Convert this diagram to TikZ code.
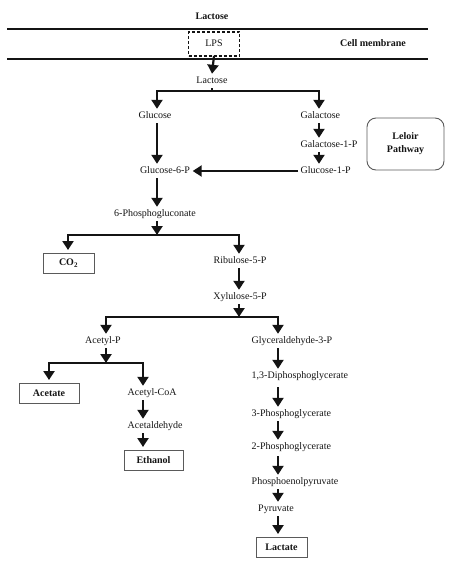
\documentclass[tikz,border=0pt]{standalone}
\usepackage{fontspec}
\setmainfont{Liberation Serif}
\usetikzlibrary{arrows.meta,calc,positioning}
\definecolor{PathInk}{HTML}{141414}
\definecolor{PathFrame}{HTML}{5A5A5A}

\begin{document}
\begin{tikzpicture}[x=1pt,y=-1pt,
    met/.style={inner sep=2.5pt,text height=7pt,text depth=2pt,
      text=PathInk,font=\fontsize{10}{12}\selectfont},
    tag/.style={met,font=\fontsize{10}{12}\selectfont\bfseries},
    endbox/.style={draw=PathFrame,line width=0.9pt,minimum height=20pt,
      outer sep=3pt,text=PathInk,font=\fontsize{10}{12}\selectfont\bfseries},
    flow/.style={-{Triangle[width=11pt,length=9pt]},line width=2.2pt,PathInk},
    tie/.style={line width=2.2pt,PathInk}]
  \useasboundingbox (0,0) rectangle (474,565);

  % membrane
  \node[tag] (lacout) at (212,17) {Lactose};
  \draw[line width=1.4pt,PathInk] (7,29) -- (428,29);
  \draw[line width=1.4pt,PathInk] (7,59) -- (428,59);
  \node[met,draw=PathInk,dashed,line width=1.3pt,dash pattern=on 3pt off 2pt,
    minimum width=51pt,minimum height=24pt,outer sep=0pt] (lps) at (214,44) {LPS};
  \node[tag] (memb) at (373,44) {Cell membrane};

  % lactose split
  \node[met] (lac) at (212,81) {Lactose};
  \node[met] (glc) at (155,116) {Glucose};
  \node[met,anchor=west] (gal) at (298,116) {Galactose};
  \node[met,anchor=west] (gal1p) at (298,145) {Galactose-1-P};
  \node[met,anchor=west] (glc1p) at (298,171) {Glucose-1-P};
  \node[met] (glc6p) at (165,171) {Glucose-6-P};
  \node[met] (pgl) at (155,214) {6-Phosphogluconate};
  \node[draw=PathFrame,line width=0.9pt,rounded corners=9pt,align=center,
    minimum width=77pt,minimum height=52pt,text=PathInk,
    font=\fontsize{10}{13}\selectfont\bfseries] (leloir) at (405.5,144)
    {Leloir\\Pathway};

  \coordinate (lacL) at (157,91);
  \coordinate (lacR) at (319,91);
  \coordinate (galcol) at (319,0);

  \draw[flow] (lps.south) -- (lac.north);
  \draw[tie] (lac.south) -- (lac.south |- lacL);
  \draw[flow] (lacR) -- (lacL) -- (glc.north -| lacL);
  \draw[flow] (lacL) -- (lacR) -- (gal.north -| lacR);
  \draw[flow] (gal.south -| galcol) -- (gal1p.north -| galcol);
  \draw[flow] (gal1p.south -| galcol) -- (glc1p.north -| galcol);
  \draw[flow] (glc1p.west) -- (glc6p.east);
  \draw[flow] (glc.south -| lacL) -- (glc6p.north -| lacL);
  \draw[flow] (glc6p.south -| lacL) -- (pgl.north -| lacL);

  % pentose phosphate
  \node[endbox,minimum width=51pt] (co2) at (68.5,263) {CO\textsubscript{2}};
  \node[met] (ru5p) at (240,261) {Ribulose-5-P};
  \node[met] (xu5p) at (240,297) {Xylulose-5-P};

  \coordinate (pglS) at (157,235);
  \coordinate (pglL) at (68,235);
  \coordinate (pglR) at (239,235);

  \draw[flow] (pgl.south -| pglS) -- (pglS);
  \draw[flow] (pglR) -- (pglL) -- (co2.north -| pglL);
  \draw[flow] (pglL) -- (pglR) -- (ru5p.north -| pglR);
  \draw[flow] (ru5p.south -| pglR) -- (xu5p.north -| pglR);

  % phosphoketolase split
  \coordinate (xuS) at (239,317);
  \coordinate (xuL) at (106,317);
  \coordinate (xuR) at (278,317);
  \draw[flow] (xu5p.south -| xuS) -- (xuS);

  \node[met] (acp) at (103,341) {Acetyl-P};
  \node[met,anchor=west] (gap) at (249,341) {Glyceraldehyde-3-P};
  \draw[flow] (xuR) -- (xuL) -- (acp.north -| xuL);
  \draw[flow] (xuL) -- (xuR) -- (gap.north -| xuR);

  % acetyl-P branch
  \coordinate (acS) at (106,363);
  \coordinate (acL) at (49,363);
  \coordinate (acR) at (143,363);
  \node[endbox,minimum width=60pt] (acetate) at (49,393) {Acetate};
  \node[met,anchor=west] (accoa) at (125,393) {Acetyl-CoA};
  \node[met,anchor=west] (acald) at (125,426) {Acetaldehyde};
  \node[endbox,minimum width=59pt] (etoh) at (153.5,460) {Ethanol};

  \draw[flow] (acp.south -| acS) -- (acS);
  \draw[flow] (acR) -- (acL) -- (acetate.north -| acL);
  \draw[flow] (acL) -- (acR) -- (accoa.north -| acR);
  \draw[flow] (accoa.south -| acR) -- (acald.north -| acR);
  \draw[flow] (acald.south -| acR) -- (etoh.north -| acR);

  % glycolysis branch
  \node[met,anchor=west] (bpg) at (249,376) {1,3-Diphosphoglycerate};
  \node[met,anchor=west] (pg3) at (249,414) {3-Phosphoglycerate};
  \node[met,anchor=west] (pg2) at (249,447) {2-Phosphoglycerate};
  \node[met,anchor=west] (pep) at (249,482) {Phosphoenolpyruvate};
  \node[met] (pyr) at (276,509) {Pyruvate};
  \node[endbox,minimum width=51pt] (lact) at (281.5,547) {Lactate};

  \draw[flow] (gap.south -| xuR) -- (bpg.north -| xuR);
  \draw[flow] ($(bpg.south -| xuR)+(0,4)$) -- (pg3.north -| xuR);
  \draw[flow] (pg3.south -| xuR) -- (pg2.north -| xuR);
  \draw[flow] ($(pg2.south -| xuR)+(0,2)$) -- (pep.north -| xuR);
  \draw[flow] (pep.south -| xuR) -- (pyr.north -| xuR);
  \draw[flow] (pyr.south -| xuR) -- (lact.north -| xuR);
\end{tikzpicture}
\end{document}
